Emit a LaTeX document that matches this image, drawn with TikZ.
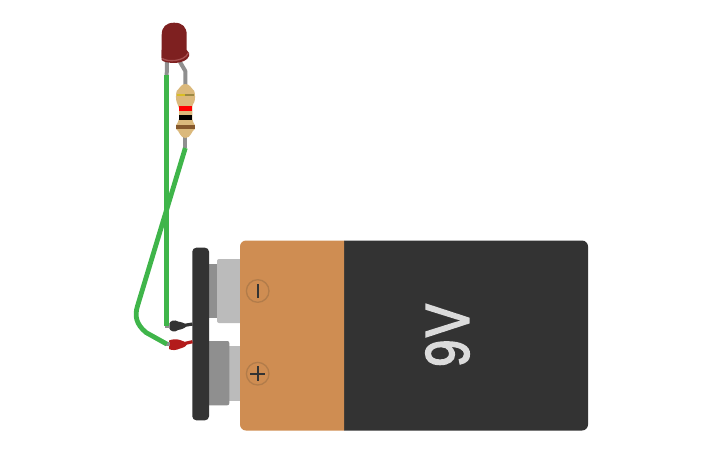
\documentclass[tikz,border=0pt]{standalone}
\usepackage{fontspec}
\setmainfont{Liberation Sans}
\newfontfamily\voltfont[FakeBold=3]{Liberation Sans}
\usetikzlibrary{calc}
\definecolor{wiregreen}{HTML}{3FB54A}
\definecolor{leadgray}{HTML}{8F8F8F}
\definecolor{batorange}{HTML}{CF8D52}
\definecolor{batdark}{HTML}{333333}
\definecolor{termlight}{HTML}{BBBBBB}
\definecolor{termmid}{HTML}{8F8F8F}
\definecolor{ledred}{HTML}{7E2020}
\definecolor{ledrim}{HTML}{A85252}
\definecolor{clipred}{HTML}{B31B1B}
\definecolor{restan}{HTML}{DBB97C}
\definecolor{markring}{HTML}{B27C4A}
\tikzset{
    wire/.style={wiregreen, line width=3.6pt, line join=round},
    lead/.style={leadgray, line width=3pt, line join=round},
    clipline/.style={line width=2.4pt},
    mark sign/.style={batdark, line width=1.6pt}
}
\begin{document}
\begin{tikzpicture}[x=0.75pt, y=-0.75pt]
    \useasboundingbox (0,0) rectangle (725,453);
    % end points
    \coordinate (ledminus) at (167,60);
    \coordinate (ledplus) at (180,62);
    \coordinate (resin) at (185.3,86);
    \coordinate (resout) at (185.3,148);
    \coordinate (wirea) at (166.7,75);
    \coordinate (clipblack) at (166.7,325.7);
    \coordinate (clipredend) at (166.7,344);
    % battery
    \fill [termlight, rounded corners=1.5pt] (217,259) rectangle (245,323);
    \fill [termmid] (209,264) rectangle (217,318);
    \fill [termlight] (225,346) rectangle (245,401);
    \fill [termmid, rounded corners=1.5pt] (205,341) rectangle (229.3,405.3);
    \fill [batdark, rounded corners=3pt] (192.3,247.7) rectangle (209,420.3);
    \fill [batdark, rounded corners=4.5pt] (344,240.5) -- (588,240.5) -- (588,430.5) -- (344,430.5);
    \fill [batorange, rounded corners=4.5pt] (344,430.5) -- (240,430.5) -- (240,240.5) -- (344,240.5);
    \node [text=black!14, rotate=90, font=\voltfont\fontsize{46}{46}\selectfont, inner sep=0pt] (volts) at (447.5,335.5) {\scalebox{.8}[1]{9\kern2.5pt V}};
    \draw [markring, line width=1pt] (257.7,291) circle (11.3);
    \draw [mark sign] (257.7,284) -- (257.7,298);
    \draw [markring, line width=1pt] (257.7,373.7) circle (11.3);
    \draw [mark sign] (257.7,366) -- (257.7,381.4);
    \draw [mark sign] (250,373.7) -- (265.4,373.7);
    % clips
    \draw [batdark, clipline] (178,326.5) -- (192.5,324);
    \draw [clipred, clipline] (178,345) -- (192.5,341.7);
    \fill [batdark] (169,324.5) .. controls (170,320) and (175,319.5) .. (178,321.5) .. controls (181,322) and (185,323) .. (187,325.5) .. controls (185,328.5) and (181,329.5) .. (178,330) .. controls (175,332.5) and (170,332) .. (169,327.5) -- cycle;
    \fill [clipred] (169,340.5) .. controls (172,339) and (177,339) .. (180,340) .. controls (183,340.5) and (186,342.5) .. (187,344) .. controls (186,347) and (182,348) .. (180,348.5) .. controls (176,350.5) and (172,350.5) .. (169,349) -- cycle;
    \draw [lead, line width=3.4pt] (164.5,325.7) -- (169.5,325.7);
    \draw [lead, line width=3.4pt] (164.5,344) -- (169.5,344);
    % leads
    \draw [lead] (ledminus) -- (wirea);
    \draw [lead] (ledplus) -- (185.3,71) -- (resin);
    \draw [lead] (185.3,130) -- (resout);
    % resistor
    \fill [restan] (185.3,84) .. controls (190,84) and (191,88) .. (194.3,91) .. controls (195.3,95) and (195.3,99) .. (194.3,102) .. controls (192.5,104) and (192.3,106) .. (192.3,108) -- (192.3,119) .. controls (192.3,122) and (194.3,123) .. (194.8,125) -- (194.8,129) .. controls (191.5,131) and (191,138) .. (185.3,138) .. controls (180,138) and (179.5,131) .. (176.2,129) -- (176.2,125) .. controls (176.7,123) and (179,122) .. (179,119) -- (179,108) .. controls (179,106) and (176.7,104) .. (176.7,102) .. controls (175.7,99) and (175.7,95) .. (176.7,91) .. controls (180,88) and (181,84) .. (185.3,84) -- cycle;
    \fill [black!20!yellow!80!orange] (177,93.7) rectangle (185.3,95.7);
    \fill [black!55!yellow!80!orange] (185.3,93.7) rectangle (194.3,95.7);
    \fill [red] (179,105.7) rectangle (192.3,110.7);
    \fill [black] (179,115) rectangle (192.3,120);
    \fill [brown!70!black] (176.2,124.7) rectangle (194.8,129.3);
    % led
    \fill [ledred] (161.7,50) -- (186.7,50) -- (189,53) -- (189,56) .. controls (188,60) and (181,63) .. (175,63) .. controls (169,63) and (163,62) .. (161.7,60) -- cycle;
    \fill [ledred] (161.7,58) -- (161.7,35) .. controls (161.7,27) and (166,22.7) .. (174.2,22.7) .. controls (182.5,22.7) and (186.7,27) .. (186.7,35) -- (186.7,54) -- cycle;
    \draw [ledrim, line width=1pt] (162.3,58.5) .. controls (167,62) and (184,62) .. (188.3,53);
    % wires
    \draw [wire] (wirea) -- (clipblack);
    \draw [wire] (resout) -- (137.5,306) .. controls (134.5,316) and (136,324) .. (146,332.5) -- (clipredend);
\end{tikzpicture}
\end{document}
